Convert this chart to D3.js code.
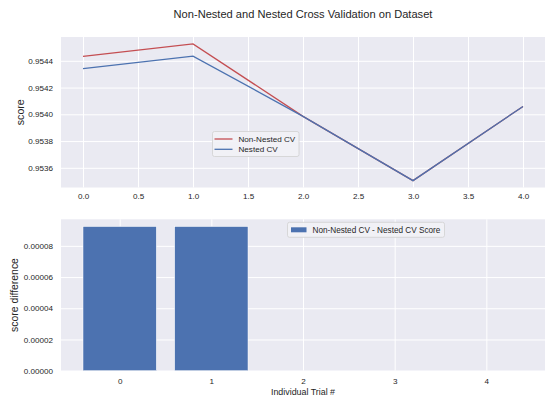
<!DOCTYPE html>
<html>
<head>
<meta charset="utf-8">
<script src="https://cdn.jsdelivr.net/npm/d3@7"></script>
<style>
  body { margin: 0; background: #fff; }
  svg { font-family: "Liberation Sans", Arial, sans-serif; }
</style>
</head>
<body>
<svg id="chart" width="550" height="400"></svg>
<script>
// donnees
const trials = [0, 1, 2, 3, 4];
const nonNestedScores = [0.954434, 0.954527, 0.953985, 0.953504, 0.954059];
const nestedScores = [0.954342, 0.954435, 0.953985, 0.953504, 0.954059];
const scoreDiff = [0.0000924, 0.0000924, 0, 0, 0];
const topXTicks = [0, 0.5, 1, 1.5, 2, 2.5, 3, 3.5, 4];
const topYTicks = [0.9536, 0.9538, 0.9540, 0.9542, 0.9544];
const barYTicks = [0, 0.00002, 0.00004, 0.00006, 0.00008];

const BG = "#eaeaf2", RED = "#c44e52", BLUE = "#4c72b0", TXT = "#262626";
const svg = d3.select("#chart");

svg.append("text").attr("x", 303).attr("y", 18).attr("text-anchor", "middle")
    .attr("font-size", 11.1).attr("fill", TXT).text("Non-Nested and Nested Cross Validation on Dataset");

// axes du haut : courbes
const boxTop = { left: 61, right: 545, top: 37, bottom: 187.5 };
const pad = (lo, hi) => [lo - (hi - lo) * 0.05, hi + (hi - lo) * 0.05];
const yExt = d3.extent(nonNestedScores.concat(nestedScores));
const x1 = d3.scaleLinear().domain(pad(0, 4)).range([boxTop.left, boxTop.right]);
const y1 = d3.scaleLinear().domain(pad(yExt[0], yExt[1])).range([boxTop.bottom, boxTop.top]);

svg.append("rect").attr("x", boxTop.left).attr("y", boxTop.top).attr("width", boxTop.right - boxTop.left).attr("height", boxTop.bottom - boxTop.top).attr("fill", BG);

const g1 = svg.append("g");
g1.append("g").attr("transform", `translate(0,${boxTop.bottom})`)
    .call(d3.axisBottom(x1).tickValues(topXTicks).tickSize(-(boxTop.bottom - boxTop.top)).tickPadding(6).tickFormat(d3.format(".1f")));
g1.append("g").attr("transform", `translate(${boxTop.left},0)`)
    .call(d3.axisLeft(y1).tickValues(topYTicks).tickSize(-(boxTop.right - boxTop.left)).tickPadding(8).tickFormat(d3.format(".4f")));

const line = d3.line().x((d, i) => x1(trials[i])).y(d => y1(d));
const curves = g1.append("g");
curves.append("path").datum(nonNestedScores).attr("fill", "none").attr("stroke", RED).attr("stroke-width", 1.3).attr("d", line);
curves.append("path").datum(nestedScores).attr("fill", "none").attr("stroke", BLUE).attr("stroke-width", 1.3).attr("d", line);

svg.append("text").attr("transform", "rotate(-90)").attr("x", -(boxTop.top + boxTop.bottom) / 2).attr("y", 24)
    .attr("text-anchor", "middle").attr("font-size", 10.6).attr("fill", TXT).text("score");

// axes du bas : barres
const boxBot = { left: 61, right: 545, top: 219.3, bottom: 370.7 };
const x2 = d3.scaleLinear().domain(pad(-0.4, 4.4)).range([boxBot.left, boxBot.right]);
const y2 = d3.scaleLinear().domain([0, d3.max(scoreDiff) * 1.05]).range([boxBot.bottom, boxBot.top]);

svg.append("rect").attr("x", boxBot.left).attr("y", boxBot.top).attr("width", boxBot.right - boxBot.left).attr("height", boxBot.bottom - boxBot.top).attr("fill", BG);

const g2 = svg.append("g");
g2.append("g").attr("transform", `translate(0,${boxBot.bottom})`)
    .call(d3.axisBottom(x2).tickValues(trials).tickSize(-(boxBot.bottom - boxBot.top)).tickPadding(7.5).tickFormat(d3.format("d")));
g2.append("g").attr("transform", `translate(${boxBot.left},0)`)
    .call(d3.axisLeft(y2).tickValues(barYTicks).tickSize(-(boxBot.right - boxBot.left)).tickPadding(8).tickFormat(d3.format(".5f")));

g2.append("g").selectAll(".bar").data(scoreDiff).join("rect").attr("class", "bar")
    .attr("x", (d, i) => x2(trials[i] - 0.4)).attr("width", (d, i) => x2(trials[i] + 0.4) - x2(trials[i] - 0.4))
    .attr("y", d => y2(d)).attr("height", d => y2(0) - y2(d))
    .attr("fill", BLUE).attr("stroke", "#fff").attr("stroke-width", 0.5);

svg.append("text").attr("transform", "rotate(-90)").attr("x", -(boxBot.top + boxBot.bottom) / 2).attr("y", 18)
    .attr("text-anchor", "middle").attr("font-size", 10.4).attr("fill", TXT).text("score difference");
svg.append("text").attr("x", 303).attr("y", 394.5).attr("text-anchor", "middle")
    .attr("font-size", 8.9).attr("fill", TXT).text("Individual Trial #");

// style seaborn : grille blanche, pas de traits d'axe
svg.selectAll(".domain").remove();
svg.selectAll(".tick line").attr("stroke", "#fff").attr("stroke-width", 1);
svg.selectAll(".tick text").attr("font-size", 8.1).attr("fill", TXT).attr("font-family", "Liberation Sans, Arial, sans-serif");

// legende du haut
const leg1 = svg.append("g").attr("transform", "translate(212.5,131.5)");
leg1.append("rect").attr("width", 86.5).attr("height", 25).attr("rx", 2).attr("fill", "#f2f2f6").attr("fill-opacity", 0.9).attr("stroke", "#d0d0d0").attr("stroke-width", 0.8);
[["Non-Nested CV", RED], ["Nested CV", BLUE]].forEach(([label, col], i) => {
    const yy = 7.5 + i * 10.3;
    leg1.append("line").attr("x1", 2).attr("x2", 20).attr("y1", yy).attr("y2", yy).attr("stroke", col).attr("stroke-width", 1.3);
    leg1.append("text").attr("x", 26).attr("y", yy + 3).attr("font-size", 8.1).attr("fill", TXT).text(label);
});

// legende du bas
const leg2 = svg.append("g").attr("transform", "translate(287.5,222.3)");
leg2.append("rect").attr("width", 157).attr("height", 15).attr("rx", 2).attr("fill", "#f2f2f6").attr("fill-opacity", 0.9).attr("stroke", "#d0d0d0").attr("stroke-width", 0.8);
leg2.append("rect").attr("x", 3.5).attr("y", 5).attr("width", 15.5).attr("height", 5).attr("fill", BLUE);
leg2.append("text").attr("x", 25).attr("y", 10.5).attr("font-size", 8.2).attr("fill", TXT).text("Non-Nested CV - Nested CV Score");
</script>
</body>
</html>
